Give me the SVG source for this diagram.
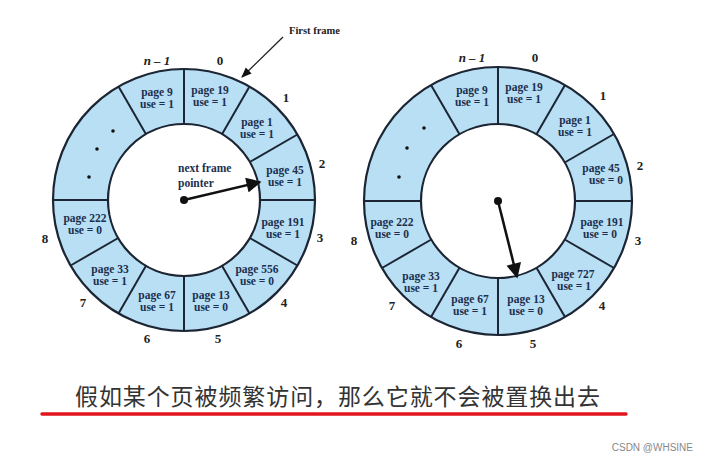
<svg xmlns="http://www.w3.org/2000/svg" width="707" height="460" viewBox="0 0 707 460">
<style>
.ring{fill:#b8dff4;stroke:#1c2533;stroke-width:2.2}
.hole{fill:#fff;stroke:#1c2533;stroke-width:2.2}
.div{stroke:#1c2533;stroke-width:2}
.t{font-family:"Liberation Serif",serif;font-weight:bold;font-size:11.5px;fill:#1c2f4f;text-anchor:middle}
.n{font-family:"Liberation Serif",serif;font-weight:bold;font-size:13px;fill:#222;text-anchor:middle}
.ptr{stroke:#111;stroke-width:2.5}
</style>
<defs>
<marker id="ah" viewBox="0 0 10 10" refX="9" refY="5" markerWidth="6.5" markerHeight="6" orient="auto" markerUnits="strokeWidth"><path d="M0,0L10,5L0,10z" fill="#111"/></marker>
<marker id="ah2" viewBox="0 0 10 10" refX="9" refY="5" markerWidth="8" markerHeight="8" orient="auto" markerUnits="strokeWidth"><path d="M0,1L10,5L0,9z" fill="#111"/></marker>
</defs>
<rect width="707" height="460" fill="#fff"/>

<g id="left-ring">
<circle class="ring" cx="184" cy="200" r="131"/>
<circle class="hole" cx="184" cy="200" r="76"/>
<g class="div">
<line x1="184" y1="124" x2="184" y2="69"/><line x1="222" y1="134.2" x2="249.5" y2="86.6"/>
<line x1="249.8" y1="162" x2="297.4" y2="134.5"/><line x1="260" y1="200" x2="315" y2="200"/>
<line x1="249.8" y1="238" x2="297.4" y2="265.5"/><line x1="222" y1="265.8" x2="249.5" y2="313.4"/>
<line x1="184" y1="276" x2="184" y2="331"/><line x1="146" y1="265.8" x2="118.5" y2="313.4"/>
<line x1="118.2" y1="238" x2="70.6" y2="265.5"/><line x1="108" y1="200" x2="53" y2="200"/>
<line x1="146" y1="134.2" x2="118.5" y2="86.6"/>
</g>
<circle cx="113" cy="131" r="1.8" fill="#111"/><circle cx="97" cy="149" r="1.8" fill="#111"/><circle cx="89" cy="177" r="1.8" fill="#111"/>
<g class="t">
<text x="157" y="96">page 9</text><text x="157" y="108">use = 1</text>
<text x="210" y="94">page 19</text><text x="210" y="106">use = 1</text>
<text x="257" y="126">page 1</text><text x="257" y="138">use = 1</text>
<text x="285" y="174">page 45</text><text x="285" y="186">use = 1</text>
<text x="283" y="226">page 191</text><text x="283" y="238">use = 1</text>
<text x="257" y="273">page 556</text><text x="257" y="285">use = 0</text>
<text x="211" y="299">page 13</text><text x="211" y="311">use = 0</text>
<text x="157" y="299">page 67</text><text x="157" y="311">use = 1</text>
<text x="110" y="273">page 33</text><text x="110" y="285">use = 1</text>
<text x="85" y="222">page 222</text><text x="85" y="234">use = 0</text>
</g>
<g class="n">
<text x="157" y="65" font-style="italic">n – 1</text><text x="220" y="65">0</text><text x="286" y="102">1</text>
<text x="322" y="168">2</text><text x="320" y="242">3</text><text x="284" y="307">4</text>
<text x="218" y="343">5</text><text x="147" y="343">6</text><text x="83" y="307">7</text><text x="45" y="243">8</text>
</g>
<text x="178" y="172" font-family="Liberation Serif,serif" font-weight="bold" font-size="11.5" fill="#1c2f4f">next frame</text>
<text x="178" y="187" font-family="Liberation Serif,serif" font-weight="bold" font-size="11.5" fill="#1c2f4f">pointer</text>
<text x="289" y="34" font-family="Liberation Serif,serif" font-weight="bold" font-size="10.5" fill="#222">First frame</text>
</g>

<g id="right-ring">
<circle class="ring" cx="498" cy="201" r="134"/>
<circle class="hole" cx="498" cy="201" r="77"/>
<g class="div">
<line x1="498" y1="124" x2="498" y2="67"/><line x1="536.5" y1="134.3" x2="565" y2="85"/>
<line x1="564.7" y1="162.5" x2="614" y2="134"/><line x1="575" y1="201" x2="632" y2="201"/>
<line x1="564.7" y1="239.5" x2="614" y2="268"/><line x1="536.5" y1="267.7" x2="565" y2="317"/>
<line x1="498" y1="278" x2="498" y2="335"/><line x1="459.5" y1="267.7" x2="431" y2="317"/>
<line x1="431.3" y1="239.5" x2="382" y2="268"/><line x1="421" y1="201" x2="364" y2="201"/>
<line x1="459.5" y1="134.3" x2="431" y2="85"/>
</g>
<circle cx="424" cy="128" r="1.8" fill="#111"/><circle cx="407" cy="148" r="1.8" fill="#111"/><circle cx="399" cy="177" r="1.8" fill="#111"/>
<g class="t">
<text x="472" y="94">page 9</text><text x="472" y="106">use = 1</text>
<text x="524" y="91">page 19</text><text x="524" y="103">use = 1</text>
<text x="575" y="124">page 1</text><text x="575" y="136">use = 1</text>
<text x="601" y="172">page 45</text><text x="606" y="184">use = 0</text>
<text x="602" y="226">page 191</text><text x="600" y="238">use = 0</text>
<text x="573" y="278">page 727</text><text x="574" y="290">use = 1</text>
<text x="526" y="303">page 13</text><text x="526" y="315">use = 0</text>
<text x="470" y="303">page 67</text><text x="470" y="315">use = 1</text>
<text x="421" y="280">page 33</text><text x="421" y="292">use = 1</text>
<text x="392" y="226">page 222</text><text x="392" y="238">use = 0</text>
</g>
<g class="n">
<text x="472" y="62" font-style="italic">n – 1</text><text x="535" y="62">0</text><text x="603" y="100">1</text>
<text x="640" y="170">2</text><text x="638" y="245">3</text><text x="602" y="310">4</text>
<text x="533" y="348">5</text><text x="459" y="348">6</text><text x="392" y="310">7</text><text x="354" y="245">8</text>
</g>
</g>

<g id="connectors">
<line x1="283" y1="37" x2="242" y2="77" stroke="#222" stroke-width="1.3" marker-end="url(#ah2)"/>
<circle cx="184" cy="200" r="4" fill="#111"/>
<line class="ptr" x1="184" y1="200" x2="260" y2="182" marker-end="url(#ah)"/>
<circle cx="498" cy="201" r="4" fill="#111"/>
<line class="ptr" x1="498" y1="201" x2="517" y2="277" marker-end="url(#ah)"/>
</g>

<text x="75" y="405" font-family="Noto Sans CJK SC,sans-serif" font-size="23" fill="#333" textLength="525">假如某个页被频繁访问，那么它就不会被置换出去</text>
<line x1="42" y1="414" x2="626" y2="414" stroke="#e0161c" stroke-width="3.5" stroke-linecap="round"/>
<text x="693" y="451" text-anchor="end" font-family="Liberation Sans,sans-serif" font-size="10" fill="#888">CSDN @WHSINE</text>
</svg>
